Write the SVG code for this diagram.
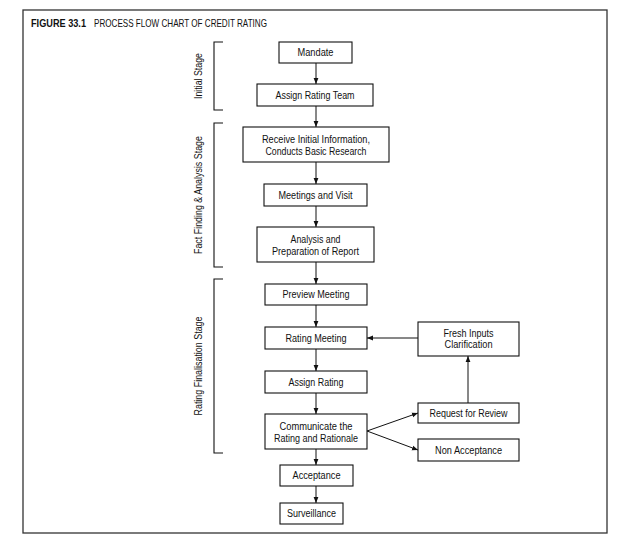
<svg xmlns="http://www.w3.org/2000/svg" width="624" height="549" viewBox="0 0 624 549">
<style>
.box{fill:#fff;stroke:#111;stroke-width:1.1}
.t{font-family:"Liberation Sans",Arial,sans-serif;font-size:10px;fill:#111;text-anchor:middle}
.lbl{font-family:"Liberation Sans",Arial,sans-serif;font-size:10px;fill:#111;text-anchor:middle}
.c{stroke:#111;stroke-width:1;fill:none}
.br{stroke:#111;stroke-width:1.1;fill:none}
</style>
<defs>
<marker id="ah" markerUnits="userSpaceOnUse" markerWidth="6" markerHeight="6" refX="6" refY="3" orient="auto">
<path d="M0,0.6 L6,3 L0,5.4 z" fill="#111"/>
</marker>
</defs>
<rect width="624" height="549" fill="#fff"/>
<rect x="23" y="10" width="584" height="523" fill="none" stroke="#333" stroke-width="1.3"/>
<g id="title">
<text x="31" y="27" font-family="Liberation Sans,Arial,sans-serif" font-size="11" font-weight="bold" fill="#111" textLength="55" lengthAdjust="spacingAndGlyphs">FIGURE 33.1</text>
<text x="94" y="27" font-family="Liberation Sans,Arial,sans-serif" font-size="11" fill="#111" textLength="173" lengthAdjust="spacingAndGlyphs">PROCESS FLOW CHART OF CREDIT RATING</text>
</g>
<g id="stages">
<g id="stage-initial">
<path class="br" d="M223,42 H214 V110 H223"/>
<text class="lbl" transform="translate(201.5,76) rotate(-90)" textLength="46" lengthAdjust="spacingAndGlyphs">Initial Stage</text>
</g>
<g id="stage-fact">
<path class="br" d="M223,123 H214 V267 H223"/>
<text class="lbl" transform="translate(201.5,195) rotate(-90)" textLength="118" lengthAdjust="spacingAndGlyphs">Fact Finding &amp; Analysis Stage</text>
</g>
<g id="stage-final">
<path class="br" d="M223,279 H214 V453 H223"/>
<text class="lbl" transform="translate(201.5,366) rotate(-90)" textLength="99" lengthAdjust="spacingAndGlyphs">Rating Finalisation Stage</text>
</g>
</g>
<g id="connectors">
<line class="c" x1="316" y1="63" x2="316" y2="84" marker-end="url(#ah)"/>
<line class="c" x1="316" y1="106" x2="316" y2="127" marker-end="url(#ah)"/>
<line class="c" x1="316" y1="162" x2="316" y2="184" marker-end="url(#ah)"/>
<line class="c" x1="316" y1="206" x2="316" y2="227" marker-end="url(#ah)"/>
<line class="c" x1="316" y1="262" x2="316" y2="284" marker-end="url(#ah)"/>
<line class="c" x1="316" y1="305" x2="316" y2="327" marker-end="url(#ah)"/>
<line class="c" x1="316" y1="349" x2="316" y2="371" marker-end="url(#ah)"/>
<line class="c" x1="316" y1="393" x2="316" y2="414" marker-end="url(#ah)"/>
<line class="c" x1="316" y1="449" x2="316" y2="465" marker-end="url(#ah)"/>
<line class="c" x1="316" y1="486" x2="316" y2="503" marker-end="url(#ah)"/>
<line class="c" x1="418" y1="338" x2="367" y2="338" marker-end="url(#ah)"/>
<line class="c" x1="468" y1="403" x2="468" y2="356" marker-end="url(#ah)"/>
<line class="c" x1="367" y1="431" x2="418" y2="413" marker-end="url(#ah)"/>
<line class="c" x1="367" y1="431" x2="418" y2="450" marker-end="url(#ah)"/>
</g>
<g id="n-mandate">
<rect class="box" x="279" y="42" width="73" height="21"/>
<text class="t" x="315.5" y="56" textLength="36" lengthAdjust="spacingAndGlyphs">Mandate</text>
</g>
<g id="n-assign-team">
<rect class="box" x="257" y="84" width="116" height="22"/>
<text class="t" x="315" y="98.5" textLength="79" lengthAdjust="spacingAndGlyphs">Assign Rating Team</text>
</g>
<g id="n-receive">
<rect class="box" x="243" y="127" width="146" height="35"/>
<text class="t" x="316" y="143" textLength="108" lengthAdjust="spacingAndGlyphs">Receive Initial Information,</text>
<text class="t" x="316" y="155" textLength="101" lengthAdjust="spacingAndGlyphs">Conducts Basic Research</text>
</g>
<g id="n-meetings">
<rect class="box" x="264" y="184" width="103" height="22"/>
<text class="t" x="315.5" y="198.5" textLength="74" lengthAdjust="spacingAndGlyphs">Meetings and Visit</text>
</g>
<g id="n-analysis">
<rect class="box" x="257" y="227" width="117" height="35"/>
<text class="t" x="315.5" y="243" textLength="50" lengthAdjust="spacingAndGlyphs">Analysis and</text>
<text class="t" x="315.5" y="255" textLength="87" lengthAdjust="spacingAndGlyphs">Preparation of Report</text>
</g>
<g id="n-preview">
<rect class="box" x="265" y="284" width="102" height="21"/>
<text class="t" x="316" y="298" textLength="67" lengthAdjust="spacingAndGlyphs">Preview Meeting</text>
</g>
<g id="n-rating-meeting">
<rect class="box" x="265" y="327" width="102" height="22"/>
<text class="t" x="316" y="341.5" textLength="61" lengthAdjust="spacingAndGlyphs">Rating Meeting</text>
</g>
<g id="n-assign-rating">
<rect class="box" x="265" y="371" width="102" height="22"/>
<text class="t" x="316" y="385.5" textLength="55" lengthAdjust="spacingAndGlyphs">Assign Rating</text>
</g>
<g id="n-communicate">
<rect class="box" x="265" y="414" width="102" height="35"/>
<text class="t" x="316" y="429.5" textLength="73" lengthAdjust="spacingAndGlyphs">Communicate the</text>
<text class="t" x="316" y="441.5" textLength="84" lengthAdjust="spacingAndGlyphs">Rating and Rationale</text>
</g>
<g id="n-acceptance">
<rect class="box" x="280" y="465" width="73" height="21"/>
<text class="t" x="316.5" y="479" textLength="48" lengthAdjust="spacingAndGlyphs">Acceptance</text>
</g>
<g id="n-surveillance">
<rect class="box" x="280" y="503" width="63" height="21"/>
<text class="t" x="311.5" y="517" textLength="49" lengthAdjust="spacingAndGlyphs">Surveillance</text>
</g>
<g id="n-fresh">
<rect class="box" x="418" y="322" width="101" height="34"/>
<text class="t" x="468.5" y="336.5" textLength="50" lengthAdjust="spacingAndGlyphs">Fresh Inputs</text>
<text class="t" x="468.5" y="347.5" textLength="48" lengthAdjust="spacingAndGlyphs">Clarification</text>
</g>
<g id="n-request">
<rect class="box" x="418" y="403" width="101" height="20"/>
<text class="t" x="468.5" y="416.5" textLength="78" lengthAdjust="spacingAndGlyphs">Request for Review</text>
</g>
<g id="n-non-acceptance">
<rect class="box" x="418" y="439" width="101" height="22"/>
<text class="t" x="468.5" y="453.5" textLength="67" lengthAdjust="spacingAndGlyphs">Non Acceptance</text>
</g>
</svg>
